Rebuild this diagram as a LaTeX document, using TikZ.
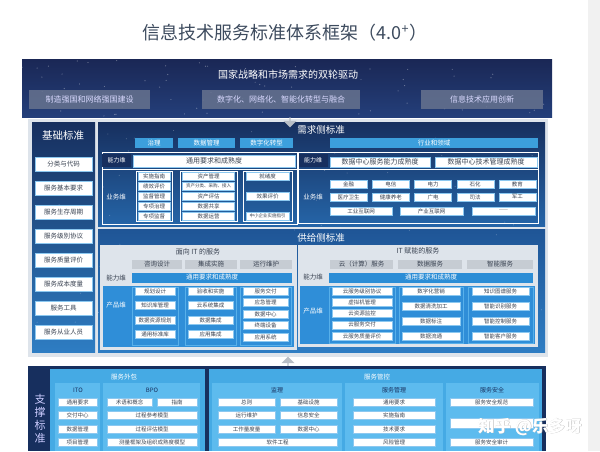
\documentclass[tikz,border=0pt]{standalone}
\usepackage{fontspec}
\setmainfont{Noto Sans CJK SC}
\usepackage{tikz}
\usetikzlibrary{shapes,arrows,positioning}

\definecolor{navy}{HTML}{172F5E}
\definecolor{deepblue}{HTML}{1F5596}
\definecolor{midblue}{HTML}{2E7DC3}
\definecolor{tabblue}{HTML}{3C9FDC}
\definecolor{barblue}{HTML}{2B8DD6}
\definecolor{prodblue}{HTML}{2F8ED8}
\definecolor{colblue}{HTML}{58B0EA}
\definecolor{skyblue}{HTML}{45AAE4}
\definecolor{paleblue}{HTML}{5DBBEE}
\definecolor{boxline}{HTML}{8CC8F0}
\definecolor{txtgray}{HTML}{3A4352}
\definecolor{titlegray}{HTML}{3D4B5E}
\definecolor{hdrgray}{HTML}{C6CCD3}
\definecolor{framegray}{HTML}{DEE4EB}
\definecolor{arrowgray}{HTML}{B8BEC6}
\definecolor{stripgray}{HTML}{F1F1F1}
\definecolor{bannertop}{HTML}{1A2755}
\definecolor{bannerbot}{HTML}{243F7A}
\definecolor{drvgray}{HTML}{67738F}

\begin{document}
\begin{tikzpicture}[x=1pt,y=-1pt,inner sep=0pt]

  \tikzstyle{wbox}=[rectangle,fill=white,draw=boxline,text=txtgray,
                    minimum height=8pt,font=\fontsize{5.5}{6}\selectfont]
  \tikzstyle{basebox}=[wbox,minimum width=57pt,minimum height=14pt,
                       font=\fontsize{6.5}{7}\selectfont]
  \tikzstyle{tabbox}=[rectangle,fill=tabblue,text=white,minimum height=10pt,
                      font=\fontsize{6.5}{7}\selectfont]
  \tikzstyle{hdrbox}=[rectangle,fill=hdrgray,text=txtgray,minimum height=9pt,
                      font=\fontsize{6.5}{7}\selectfont]
  \tikzstyle{capbar}=[rectangle,fill=barblue,text=white,minimum height=10pt,
                      font=\fontsize{6.5}{7}\selectfont]
  \tikzstyle{dimlabel}=[text=white,font=\fontsize{6.5}{7}\selectfont]
  \tikzstyle{dimcell}=[rectangle,fill=navy,text=white,minimum width=29pt,
                       minimum height=13pt,font=\fontsize{6}{7}\selectfont]
  \tikzstyle{panel title}=[text=white,font=\fontsize{9.5}{10}\selectfont]
  \tikzstyle{group title}=[text=txtgray,font=\fontsize{7}{8}\selectfont]
  \tikzstyle{sub title}=[text=navy,font=\fontsize{6}{7}\selectfont]
  \tikzstyle{drvbox}=[rectangle,fill=drvgray,fill opacity=0.85,text opacity=1,
                      text=white!85!blue,minimum height=19pt,
                      font=\fontsize{8}{9}\selectfont]
  \tikzstyle{blockarrow}=[single arrow,fill=arrowgray,minimum height=10pt,
                          minimum width=13pt,single arrow head extend=2pt]
  \tikzstyle{watermark}=[font=\fontsize{16.5}{17}\selectfont\bfseries]

  \useasboundingbox (0,0) rectangle (600,451);
  \fill[stripgray] (588,0) rectangle (600,451);

  % Title and drivers
  \node[text=titlegray,font=\fontsize{18}{19}\selectfont] (title) at (285,33)
    {信息技术服务标准体系框架（4.0\textsuperscript{+}）};
  \shade[top color=bannertop,bottom color=bannerbot] (22,59) rectangle (552,117);
  \pgfmathsetseed{7}
  \foreach \k in {1,...,70}
    \fill[white,opacity=0.35] ({22+530*rnd},{60+56*rnd}) circle (0.6pt);
  \node[text=white,font=\fontsize{10}{11}\selectfont] (drive) at (288,75)
    {国家战略和市场需求的双轮驱动};
  \node[drvbox,minimum width=121pt] (drv1) at (89.5,99.5) {制造强国和网络强国建设};
  \node[drvbox,minimum width=158pt] (drv2) at (281,99.5) {数字化、网络化、智能化转型与融合};
  \node[drvbox,minimum width=122pt] (drv3) at (482,99.5) {信息技术应用创新};

  % Main frame
  \fill[framegray] (28,119) rectangle (548,357);
  \shade[top color=navy,bottom color=midblue] (32,122) rectangle (95,352);
  \shade[top color=navy,bottom color=deepblue!60!midblue] (98,122) rectangle (545,226);
  \shade[top color=deepblue,bottom color=midblue] (98,229) rectangle (545,352);
  \foreach \k in {1,...,90}
    \fill[white,opacity=0.3] ({32+513*rnd},{123+228*rnd}) circle (0.5pt);
  \node[blockarrow,shape border rotate=270] (downarrow) at (290,122) {};

  % Base standards
  \node[panel title,font=\fontsize{10.5}{11}\selectfont] (basetitle) at (63,136) {基础标准};
  \foreach \t [count=\i] in {分类与代码,服务基本要求,服务生存周期,服务级别协议,
                             服务质量评价,服务成本度量,服务工具,服务从业人员}
    \node[basebox] (base\i) at (63.5,{140+24*\i}) {\t};

  % Demand side
  \node[panel title] (demandtitle) at (321,130) {需求侧标准};
  \node[tabbox,minimum width=38pt] (govtab) at (154,143) {治理};
  \node[tabbox,minimum width=57pt] (datatab) at (206.5,143) {数据管理};
  \node[tabbox,minimum width=53pt] (digitab) at (266.5,143) {数字化转型};
  \node[tabbox,minimum width=208pt] (indtab) at (434,143) {行业和领域};

  \draw[white,line width=0.8pt] (102,152) rectangle (297,224);
  \draw[white,line width=0.8pt] (102,169) -- (297,169);
  \node[dimcell] (demcap1) at (116.5,160.5) {能力维};
  \node[wbox,minimum width=162pt,minimum height=12pt,font=\fontsize{7}{8}\selectfont]
    (demgen) at (214,161) {通用要求和成熟度};
  \node[dimlabel] (dembiz1) at (116,197) {业务维};
  \draw[white] (136,171) rectangle (172,221);
  \draw[white] (180,171) rectangle (237,221);
  \draw[white] (243,171) rectangle (292,221);
  \foreach \t [count=\i] in {实施指南,绩效评价,监督管理,专项治理,专项监督}
    \node[wbox,minimum width=32pt] (gov\i) at (154,{166+10*\i}) {\t};
  \foreach \t [count=\i] in {资产管理,{{\fontsize{4.5}{5}\selectfont 资产分类、采购、接入}},
                             资产评估,数据共享,数据运营}
    \node[wbox,minimum width=52pt] (asset\i) at (208.5,{166+10*\i}) {\t};
  \node[wbox,minimum width=43pt] (ready) at (267.5,176) {就绪度};
  \node[wbox,minimum width=43pt] (effect) at (267.5,196) {效果评价};
  \node[wbox,minimum width=43pt,font=\fontsize{4.5}{5}\selectfont] (sme) at (267.5,216)
    {中小企业实施指引};

  \draw[white,line width=0.8pt] (298,152) rectangle (538,223);
  \draw[white,line width=0.8pt] (298,169) -- (538,169);
  \node[dimcell] (demcap2) at (313,160.5) {能力维};
  \node[wbox,minimum width=100pt,minimum height=10pt,font=\fontsize{7}{8}\selectfont]
    (dcserv) at (380,162) {数据中心服务能力成熟度};
  \node[wbox,minimum width=102pt,minimum height=10pt,font=\fontsize{7}{8}\selectfont]
    (dctech) at (486,162) {数据中心技术管理成熟度};
  \node[dimlabel] (dembiz2) at (313,197) {业务维};
  \foreach \t [count=\i] in {金融,电信,电力,石化,教育}
    \node[wbox,minimum width=37pt] (ind\i) at ({306.4+42.2*\i},184) {\t};
  \foreach \t [count=\i] in {医疗卫生,健康养老,广电,司法,军工}
    \node[wbox,minimum width=37pt] (sect\i) at ({306.4+42.2*\i},197) {\t};
  \node[wbox,minimum width=62pt] (iiot) at (361,211) {工业互联网};
  \node[wbox,minimum width=63pt] (biot) at (431.5,211) {产业互联网};
  \node[wbox,minimum width=63pt,text=gray] (more) at (503.5,211) {——};

  % Supply side
  \node[panel title] (supplytitle) at (321,238) {供给侧标准};
  \fill[framegray] (100,245) rectangle (297,350);
  \fill[prodblue] (103,286) rectangle (294,347);
  \node[group title] (itsvc) at (198,252) {面向 IT 的服务};
  \node[hdrbox,minimum width=50pt] (consult) at (157,264) {咨询设计};
  \node[hdrbox,minimum width=52pt] (integ) at (211,264) {集成实施};
  \node[hdrbox,minimum width=52pt] (opera) at (266,264) {运行维护};
  \node[group title,font=\fontsize{6.5}{7}\selectfont] (supcap1) at (116,278) {能力维};
  \node[capbar,minimum width=160pt] (supgen1) at (212,277.5) {通用要求和成熟度};
  \node[dimlabel] (prod1) at (116,305) {产品维};
  \draw[colblue,line width=1pt] (132,287) rectangle (178,345);
  \draw[colblue,line width=1pt] (185,287) rectangle (236,345);
  \draw[colblue,line width=1pt] (240,287) rectangle (291,345);
  \foreach \t [count=\i] in {规划设计,知识库管理,数据资源规划,通用标准库}
    \node[wbox,minimum width=40pt] (plan\i) at (155,{276.5+14.5*\i}) {\t};
  \foreach \t [count=\i] in {验收和实施,云系统集成,数据集成,应用集成}
    \node[wbox,minimum width=45pt] (impl\i) at (210.5,{276.5+14.5*\i}) {\t};
  \foreach \t [count=\i] in {服务交付,应急管理,数据中心,终端设备,应用系统}
    \node[wbox,minimum width=45pt] (ops\i) at (265.5,{279.5+11.5*\i}) {\t};

  \fill[framegray] (298,245) rectangle (538,347);
  \fill[prodblue] (300,286) rectangle (535,344);
  \node[group title] (itenable) at (418,251) {IT 赋能的服务};
  \node[hdrbox,minimum width=63pt] (cloud) at (361.5,264) {云（计算）服务};
  \node[hdrbox,minimum width=64pt] (datasvc) at (430,264) {数据服务};
  \node[hdrbox,minimum width=66pt] (smart) at (500,264) {智能服务};
  \node[group title,font=\fontsize{6.5}{7}\selectfont] (supcap2) at (313,277) {能力维};
  \node[capbar,minimum width=204pt] (supgen2) at (431,277.5) {通用要求和成熟度};
  \node[dimlabel] (prod2) at (313,311) {产品维};
  \draw[colblue,line width=1pt] (329,287) rectangle (395,343);
  \draw[colblue,line width=1pt] (399,287) rectangle (463,343);
  \draw[colblue,line width=1pt] (468,287) rectangle (533,343);
  \foreach \t [count=\i] in {云服务级别协议,虚拟机管理,云资源监控,云服务交付,云服务质量评价}
    \node[wbox,minimum width=60pt] (cloud\i) at (362,{280+11.2*\i}) {\t};
  \foreach \t [count=\i] in {数字化营销,数据清洗加工,数据标注,数据流通}
    \node[wbox,minimum width=58pt] (data\i) at (431,{276+15*\i}) {\t};
  \foreach \t [count=\i] in {知识图谱服务,智能识别服务,智能控制服务,智能客户服务}
    \node[wbox,minimum width=57pt] (smart\i) at (500.5,{276+15*\i}) {\t};

  \node[blockarrow,shape border rotate=90] (uparrow) at (288,362) {};

  % Support standards
  \fill[navy] (28,366) rectangle (546,451);
  \fill[skyblue] (50,369) rectangle (205,451);
  \fill[paleblue] (55,383) rectangle (100,451);
  \fill[paleblue] (103,383) rectangle (200,451);
  \fill[skyblue] (209,369) rectangle (542,451);
  \fill[paleblue] (212,383) rectangle (342,451);
  \fill[paleblue] (345,383) rectangle (443,451);
  \fill[paleblue] (446,383) rectangle (539,451);
  \node[text=white!80!blue,font=\fontsize{11}{13}\selectfont,align=center]
    (support) at (40,419) {支\\撑\\标\\准};
  \node[dimlabel] (outsrc) at (124,377) {服务外包};
  \node[dimlabel] (control) at (377,377) {服务管控};
  \node[sub title] (ito) at (78,390) {ITO};
  \node[sub title] (bpo) at (152,390) {BPO};
  \node[sub title] (superv) at (277,390) {监理};
  \node[sub title] (svcmgmt) at (394,390) {服务管理};
  \node[sub title] (svcsec) at (492,390) {服务安全};
  \foreach \t [count=\i] in {通用要求,交付中心,数据管理,项目管理}
    \node[wbox,minimum width=39pt] (ito\i) at (77.5,{388.5+13.5*\i}) {\t};
  \node[wbox,minimum width=45pt] (term) at (129.5,402) {术语和概念};
  \node[wbox,minimum width=40pt] (guide) at (177,402) {指南};
  \foreach \t [count=\i] in {过程参考模型,过程评估模型,测量框架及组织成熟度模型}
    \node[wbox,minimum width=90pt] (bpo\i) at (152,{402+13.5*\i}) {\t};
  \foreach \a/\b [count=\i] in {总则/基础设施,运行维护/信息安全,工作量度量/数据中心}
  {
    \node[wbox,minimum width=57pt] (supl\i) at (246.5,{388.5+13.5*\i}) {\a};
    \node[wbox,minimum width=57pt] (supr\i) at (308.5,{388.5+13.5*\i}) {\b};
  }
  \node[wbox,minimum width=119pt] (softeng) at (277.5,442.5) {软件工程};
  \foreach \t [count=\i] in {通用要求,实施指南,技术要求,风险管理}
    \node[wbox,minimum width=82pt] (mgmt\i) at (394,{388.5+13.5*\i}) {\t};
  \node[wbox,minimum width=83pt] (secspec) at (491.5,402) {服务安全规范};
  \node[wbox,minimum width=83pt,minimum height=10pt] (secmid) at (491.5,423) {};
  \node[wbox,minimum width=83pt] (secaudit) at (491.5,442.5) {服务安全审计};

  % Watermark
  \node[watermark,text=gray!55] (wmshade) at (530.3,427.5) {知乎 @乐多呀};
  \node[watermark,text=white] (wm) at (529.8,427) {知乎 @乐多呀};
\end{tikzpicture}
\end{document}
